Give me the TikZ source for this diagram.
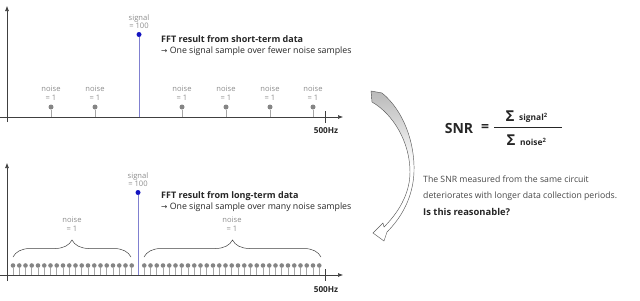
\documentclass[tikz,border=0pt]{standalone}
\usepackage{fontspec}
\setmainfont{Open Sans}
\newfontfamily\symf{DejaVu Sans}
\usetikzlibrary{arrows.meta,decorations.pathreplacing}
\definecolor{axisc}{HTML}{404040}
\definecolor{stemc}{HTML}{A6A6A6}
\definecolor{dotc}{HTML}{858585}
\definecolor{labc}{HTML}{8C8C8C}
\definecolor{sigstem}{HTML}{8080D0}
\definecolor{sigdot}{HTML}{1414C0}
\definecolor{txtc}{HTML}{262626}
\definecolor{arrc}{HTML}{5A5A5A}
\begin{document}
\begin{tikzpicture}[x=1pt,y=-1pt,
  axis/.style={draw=axisc,line width=0.6pt,-{Latex[length=5pt,width=4pt]}},
  tickl/.style={draw=axisc,line width=0.6pt},
  stem/.style={draw=stemc,line width=0.7pt},
  sstem/.style={draw=sigstem,line width=0.9pt},
  ndot/.style={circle,fill=dotc,inner sep=0pt,minimum size=5pt},
  sdot/.style={circle,fill=sigdot,inner sep=0pt,minimum size=5pt},
  lab/.style={text=labc,font=\fontsize{7.6}{8.5}\selectfont,align=center,inner sep=0pt},
  hz/.style={text=txtc,font=\bfseries\fontsize{8.2}{9}\selectfont,inner sep=0pt},
  ttl/.style={text=txtc,font=\bfseries\fontsize{9}{10}\selectfont,anchor=base west,inner sep=0pt},
  sub/.style={text=txtc,font=\fontsize{8.8}{10}\selectfont,anchor=base west,inner sep=0pt},
  brc/.style={draw=axisc,line width=0.5pt,decorate,decoration={brace,amplitude=17pt}},
  para/.style={text=txtc!85,font=\fontsize{8.7}{10}\selectfont,anchor=base west,inner sep=0pt},
]
\useasboundingbox (0,0) rectangle (640,300);

%% ---------------- top chart ----------------
\coordinate (tyb) at (7,122);
\coordinate (tyt) at (7,6);
\coordinate (txl) at (0,117);
\coordinate (txr) at (343,117);
\coordinate (ttk1) at (325,111);
\coordinate (ttk2) at (325,123);
\draw[axis] (tyb) -- (tyt);
\draw[axis] (txl) -- (txr);
\draw[tickl] (ttk1) -- (ttk2);
\node[hz] (thz) at (326,130.5) {500Hz};

\foreach \i/\x in {1/51,2/95,3/182,4/226,5/270,6/313}{
  \coordinate (tb\i) at (\x,117);
  \node[ndot] (td\i) at (\x,107) {};
  \draw[stem] (tb\i) -- (td\i);
  \node[lab] (tl\i) at (\x,93) {noise\\= 1};
}
\coordinate (tsb) at (139,117);
\node[sdot] (tsd) at (139,34.5) {};
\draw[sstem] (tsb) -- (tsd);
\node[lab] (tsl) at (139,21.5) {signal\\= 100};

\node[ttl] (tt1) at (161,42.5) {FFT result from short-term data};
\node[sub] (tt2) at (161,53) {{\symf\fontsize{7.5}{9}\selectfont →} One signal sample over fewer noise samples};

%% ---------------- bottom chart ----------------
\coordinate (byb) at (7,281);
\coordinate (byt) at (7,163);
\coordinate (bxl) at (0,275);
\coordinate (bxr) at (343,275);
\coordinate (btk1) at (325,269);
\coordinate (btk2) at (325,281);
\draw[axis] (byb) -- (byt);
\draw[axis] (bxl) -- (bxr);
\draw[tickl] (btk1) -- (btk2);
\node[hz] (bhz) at (326,290) {500Hz};

\foreach \i in {0,...,19}{
  \coordinate (lb\i) at ({13+6.25*\i},275);
  \node[ndot,minimum size=4.6pt] (ld\i) at ({13+6.25*\i},265.5) {};
  \draw[stem] (lb\i) -- (ld\i);
}
\foreach \i in {0,...,28}{
  \coordinate (rb\i) at ({144.25+6.25*\i},275);
  \node[ndot,minimum size=4.6pt] (rd\i) at ({144.25+6.25*\i},265.5) {};
  \draw[stem] (rb\i) -- (rd\i);
}
\coordinate (bsb) at (138,275);
\node[sdot] (bsd) at (138,192.5) {};
\draw[sstem] (bsb) -- (bsd);
\node[lab] (bsl) at (138,179.5) {signal\\= 100};

\coordinate (lbr1) at (13,257);
\coordinate (lbr2) at (131,257);
\coordinate (rbr1) at (144,257);
\coordinate (rbr2) at (321,257);
\draw[brc] (lbr1) -- (lbr2);
\draw[brc] (rbr1) -- (rbr2);
\node[lab] (lnl) at (72,224) {noise\\= 1};
\node[lab] (rnl) at (232,224) {noise\\= 1};

\node[ttl] (bt1) at (161,198.5) {FFT result from long-term data};
\node[sub] (bt2) at (161,209.5) {{\symf\fontsize{7.5}{9}\selectfont →} One signal sample over many noise samples};

%% ---------------- curved block arrow ----------------
\shade[top color=gray!55, bottom color=white, middle color=white, draw=arrc, line width=0.45pt, line join=miter]
  (382,93) .. controls (403,110) and (415,142) .. (414,172)
  .. controls (413,198) and (401,218) .. (387,232)
  -- (384,241) -- (373,233) -- (383,223) -- (384,227)
  .. controls (397,214) and (410,195) .. (410,172)
  .. controls (410,142) and (393,114) .. (372,102)
  -- (371,91) -- cycle;

%% ---------------- SNR formula ----------------
\node[text=txtc,font=\bfseries\fontsize{14}{16}\selectfont,inner sep=0pt] (snr) at (459,128) {SNR};
\node[text=txtc,font=\bfseries\fontsize{14}{16}\selectfont,inner sep=0pt] (eq) at (485,128) {=};
\coordinate (bar1) at (494,127);
\coordinate (bar2) at (562,127);
\draw[draw=txtc,line width=0.8pt] (bar1) -- (bar2);
\node[text=txtc,font=\bfseries\fontsize{15}{16}\selectfont,inner sep=0pt] (sg1) at (510,116.5) {Σ};
\node[text=txtc,font=\bfseries\fontsize{8.4}{9}\selectfont,anchor=west,inner sep=0pt] (num) at (519,117.5) {signal\textsuperscript{2}};
\node[text=txtc,font=\bfseries\fontsize{15}{16}\selectfont,inner sep=0pt] (sg2) at (511,140.5) {Σ};
\node[text=txtc,font=\bfseries\fontsize{8.4}{9}\selectfont,anchor=west,inner sep=0pt] (den) at (520,141.5) {noise\textsuperscript{2}};

%% ---------------- question text ----------------
\node[para] (p1) at (423,182) {The SNR measured from the same circuit};
\node[para] (p2) at (423,198) {deteriorates with longer data collection periods.};
\node[para,text=txtc,font=\bfseries\fontsize{9.4}{10}\selectfont] (p3) at (423,215) {Is this reasonable?};
\end{tikzpicture}
\end{document}
